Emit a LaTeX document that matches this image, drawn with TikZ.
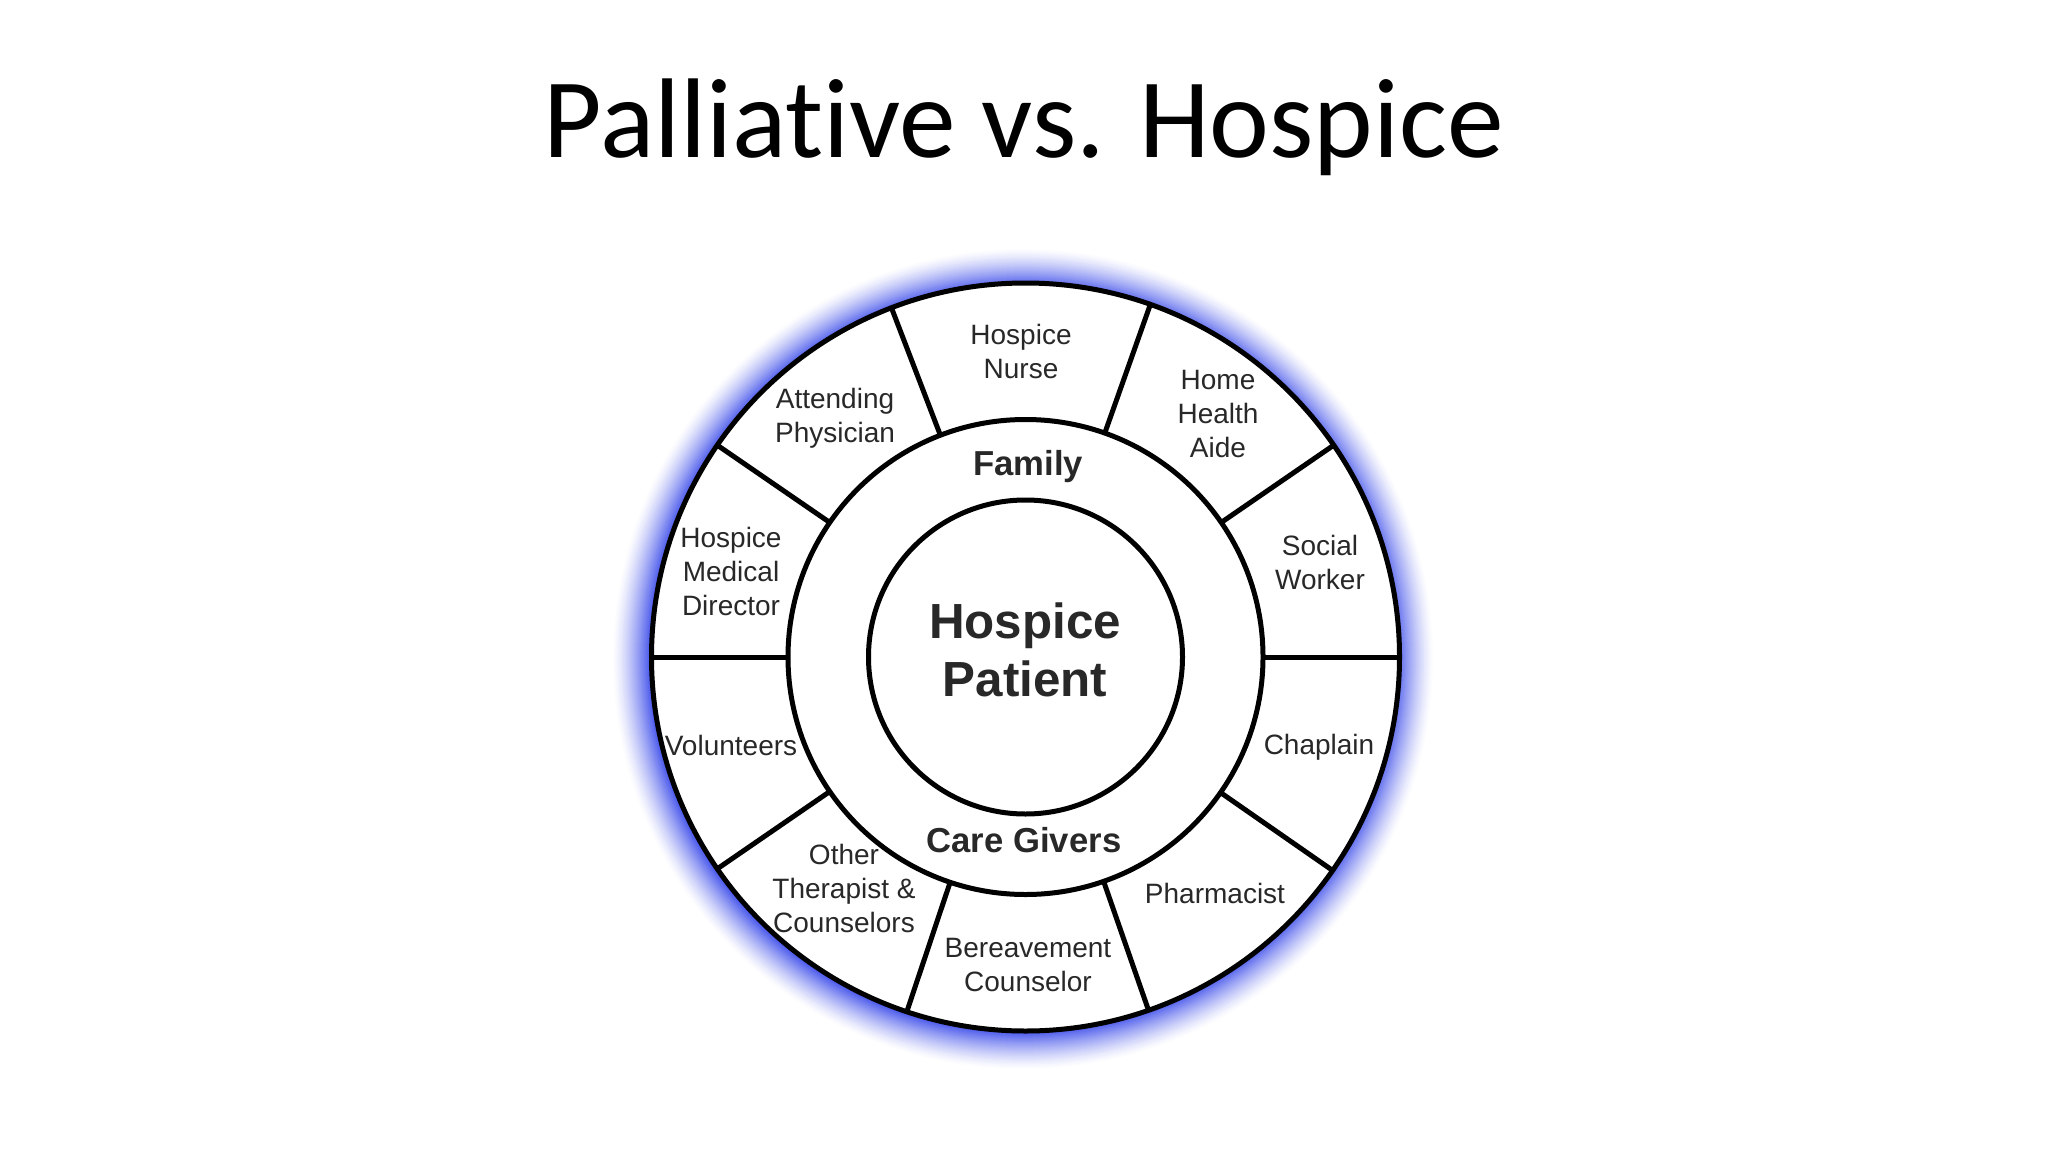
\documentclass[tikz,border=0pt]{standalone}
\usepackage{fontspec}
\setmainfont{Liberation Sans}
\newfontfamily\titlefont[Ligatures=NoCommon]{Carlito}
\definecolor{glowblue}{RGB}{70,85,235}
\definecolor{labelgray}{RGB}{40,40,40}
\tikzset{every picture/.style={line width=0.75pt}}
\tikzset{
  rim/.style={draw=black, line width=3.75pt},
  role/.style={align=center, inner sep=0.75pt, text=labelgray, font=\fontsize{21}{25.5}\selectfont},
  ringlabel/.style={inner sep=0.75pt, text=labelgray, font=\bfseries\fontsize{26}{31}\selectfont},
  hublabel/.style={align=center, inner sep=0.75pt, text=labelgray, font=\bfseries\fontsize{37}{44}\selectfont},
}

\begin{document}
\begin{tikzpicture}[x=0.75pt,y=0.75pt,yscale=-1,xscale=1]
		\useasboundingbox (0,0) rectangle (2048,1152);
		\fill[white] (0,0) rectangle (2048,1152);
		\coordinate (hub) at (1025.5,657);
		\coordinate (glowhub) at (1023,659);

		%Shape: Glow around the wheel
		\foreach \i in {38,37,...,1}{
			\pgfmathtruncatemacro\mix{100*(1-\i/39)^1.4}
			\draw[glowblue!\mix!white, line width=1.3pt] (glowhub) circle ({372+\i});
		}
		%Shape: Circle (outer rim)
		\draw[rim, fill=white] (hub) circle (374);
		%Shape: Circle (care ring)
		\draw[rim] (hub) circle (237.5);
		%Shape: Circle (patient)
		\draw[rim] (hub) circle (157);
		%Straight Lines (spokes)
		\foreach \a in {0,34.5,70.5,111,145.5,180,-145.5,-108.5,-70.8,-34.8}
			\draw[rim] ([shift={(-\a:237.5)}]hub) -- ([shift={(-\a:374)}]hub);

		% Text Node
		\draw (1024,157) node [anchor=base][inner sep=0.75pt] (title) {\titlefont\fontsize{85}{100}\selectfont Palliative vs. Hospice};
		% Text Node
		\draw (1021,351) node [role] (nurse) {Hospice\\Nurse};
		% Text Node
		\draw (1218,414) node [role] (aide) {Home\\Health\\Aide};
		% Text Node
		\draw (1320,562) node [role] (social) {Social\\Worker};
		% Text Node
		\draw (1319,747) node [role] (chaplain) {Chaplain};
		% Text Node
		\draw (1215,893) node [role] (pharmacist) {Pharmacist};
		% Text Node
		\draw (1028,965) node [role] (bereavement) {Bereavement\\Counselor};
		% Text Node
		\draw (844,888) node [role] (therapist) {Other\\Therapist \&\\Counselors};
		% Text Node
		\draw (731,745) node [role] (volunteers) {Volunteers};
		% Text Node
		\draw (731,571) node [role] (director) {Hospice\\Medical\\Director};
		% Text Node
		\draw (835,418) node [role] (physician) {Attending\\Physician};
		% Text Node
		\draw (1028,467) node [ringlabel] (family) {Family};
		% Text Node
		\draw (1024,840) node [ringlabel] (givers) {Care Givers};
		% Text Node
		\draw (1025,650) node [hublabel] (patient) {Hospice\\Patient};

	\end{tikzpicture}
\end{document}
